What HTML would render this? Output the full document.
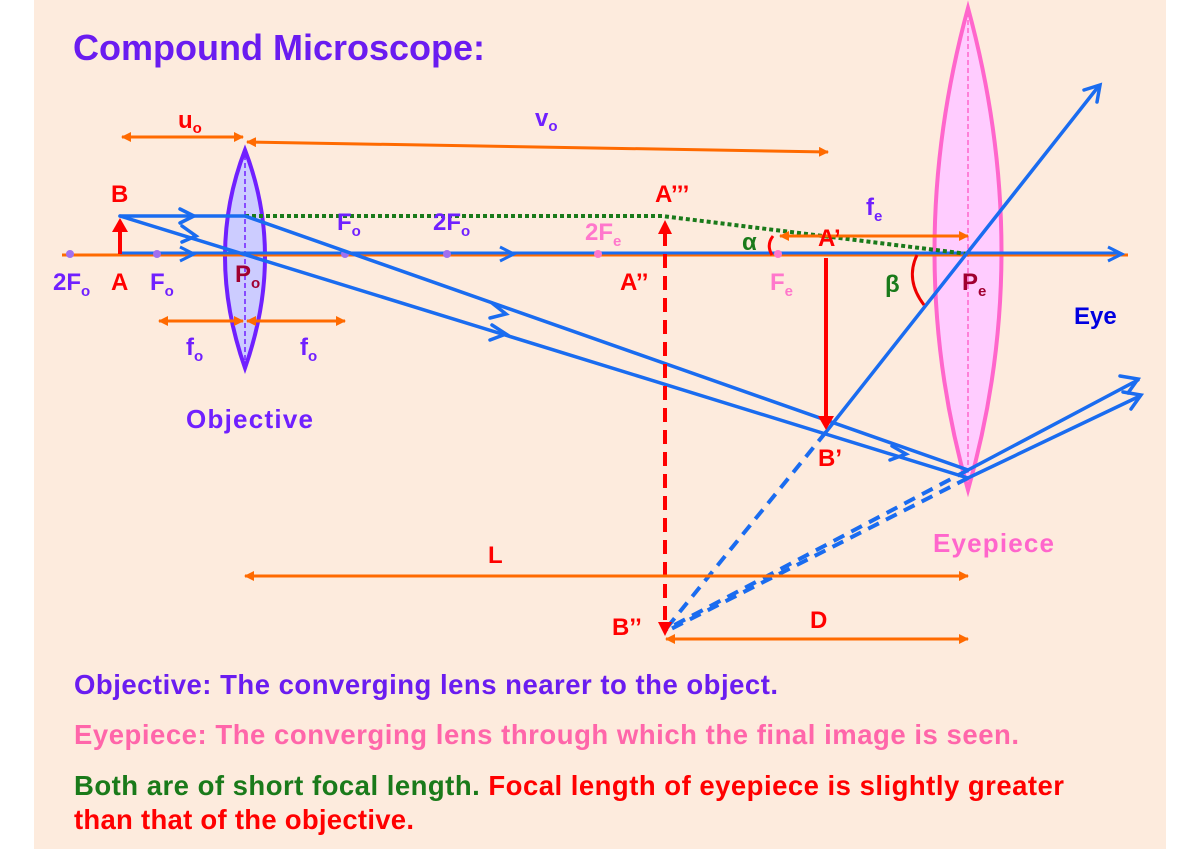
<!DOCTYPE html>
<html><head><meta charset="utf-8"><style>
body{margin:0;background:#fff;}
svg{display:block;font-family:"Liberation Sans",sans-serif;font-weight:bold;}
</style></head><body>
<svg width="1200" height="849" viewBox="0 0 1200 849">
<defs>
<marker id="ob" markerWidth="10" markerHeight="10" refX="9" refY="5" orient="auto" markerUnits="userSpaceOnUse"><path d="M0,0 L10,5 L0,10 z" fill="#ff6a00"/></marker>
<marker id="os" markerWidth="10" markerHeight="10" refX="1" refY="5" orient="auto" markerUnits="userSpaceOnUse"><path d="M10,0 L0,5 L10,10 z" fill="#ff6a00"/></marker>
</defs>
<rect x="34" y="0" width="1132" height="849" fill="#fdebdd"/>
<text x="73" y="60" font-size="36" fill="#6a1cf0">Compound Microscope:</text>
<path d="M245,150 Q285,254 245,368 Q205,254 245,150 z" fill="#ccccff" stroke="#7020ff" stroke-width="4"/>
<line x1="245" y1="155" x2="245" y2="365" stroke="#7020ff" stroke-width="1.5" stroke-dasharray="5,3"/>
<path d="M968,8 Q1035,254 968,490 Q901,254 968,8 z" fill="#ffccff" stroke="#ff66cc" stroke-width="4"/>
<line x1="968" y1="12" x2="968" y2="485" stroke="#ff66cc" stroke-width="1.5" stroke-dasharray="5,3"/>
<line x1="62" y1="255" x2="1128" y2="255" stroke="#ff6a00" stroke-width="3"/>
<line x1="120" y1="253" x2="1120" y2="253" stroke="#1a6cf0" stroke-width="3"/>
<path d="M1108,247 L1122,254 L1108,261" fill="none" stroke="#1a6cf0" stroke-width="3"/>
<path d="M500,247 L514,254 L500,261" fill="none" stroke="#1a6cf0" stroke-width="3"/>
<path d="M180,247 L194,254 L180,261" fill="none" stroke="#1a6cf0" stroke-width="3"/>
<g fill="#a070f0"><circle cx="70" cy="254" r="4"/><circle cx="157" cy="254" r="4"/><circle cx="345" cy="254" r="4"/><circle cx="447" cy="254" r="4"/></g>
<g fill="#ff77cc"><circle cx="598" cy="254" r="4"/><circle cx="778" cy="254" r="4"/></g>
<polyline points="245,216 662,216 968,254" fill="none" stroke="#1a7a1a" stroke-width="4" stroke-dasharray="4,3"/>
<g stroke="#1a6cf0" stroke-width="3.5" fill="none" stroke-linecap="round">
<line x1="120" y1="216" x2="245" y2="216"/>
<path d="M180,209 L194,216 L180,223"/>
<polyline points="245,216 968,470 1138,380"/>
<polyline points="120,216 968,478 1140,396"/>
<path d="M182,226 L196,236 L182,242"/>
<path d="M492,303 L506,314 L490,318"/>
<path d="M492,325 L506,334 L490,340"/>
<path d="M892,446 L906,454 L890,460"/>
<path d="M1120,376 L1138,379 L1128,393"/>
<path d="M1123,392 L1141,395 L1131,409"/>
<line x1="826" y1="432" x2="1098" y2="87"/>
<path d="M1084,90 L1100,85 L1097,102"/>
</g>
<g stroke="#1a6cf0" stroke-width="4" fill="none" stroke-dasharray="12,8">
<line x1="826" y1="432" x2="665" y2="630"/>
<line x1="968" y1="470" x2="665" y2="630"/>
<line x1="968" y1="478" x2="665" y2="632"/>
</g>
<line x1="120" y1="254" x2="120" y2="228" stroke="#f00" stroke-width="4"/>
<path d="M112,232 L120,218 L128,232 z" fill="#f00"/>
<line x1="665" y1="232" x2="665" y2="622" stroke="#f00" stroke-width="4" stroke-dasharray="14,8"/>
<path d="M658,234 L665,220 L672,234 z" fill="#f00"/>
<path d="M658,622 L665,636 L672,622 z" fill="#f00"/>
<line x1="826" y1="258" x2="826" y2="418" stroke="#f00" stroke-width="4"/>
<path d="M818,416 L826,430 L834,416 z" fill="#f00"/>
<path d="M773,236 Q766,245 772,255" fill="none" stroke="#f00" stroke-width="3"/>
<path d="M917,255 Q905,280 924,305" fill="none" stroke="#e00" stroke-width="3"/>
<g stroke="#ff6a00" stroke-width="3">
<line x1="122" y1="137" x2="243" y2="137" marker-start="url(#os)" marker-end="url(#ob)"/>
<line x1="247" y1="142" x2="828" y2="152" marker-start="url(#os)" marker-end="url(#ob)"/>
<line x1="159" y1="321" x2="243" y2="321" marker-start="url(#os)" marker-end="url(#ob)"/>
<line x1="247" y1="321" x2="345" y2="321" marker-start="url(#os)" marker-end="url(#ob)"/>
<line x1="780" y1="236" x2="968" y2="236" marker-start="url(#os)" marker-end="url(#ob)"/>
<line x1="245" y1="576" x2="968" y2="576" marker-start="url(#os)" marker-end="url(#ob)"/>
<line x1="666" y1="639" x2="968" y2="639" marker-start="url(#os)" marker-end="url(#ob)"/>
</g>
<g font-size="24">
<text x="178" y="128" fill="#f00">u<tspan font-size="15" dy="5">o</tspan></text>
<text x="535" y="126" fill="#7020ff">v<tspan font-size="15" dy="5">o</tspan></text>
<text x="111" y="202" fill="#f00">B</text>
<text x="53" y="290" fill="#7020ff">2F<tspan font-size="15" dy="6">o</tspan></text>
<text x="111" y="290" fill="#f00">A</text>
<text x="150" y="290" fill="#7020ff">F<tspan font-size="15" dy="6">o</tspan></text>
<text x="235" y="282" fill="#a00030">P<tspan font-size="15" dy="6">o</tspan></text>
<text x="337" y="230" fill="#7020ff">F<tspan font-size="15" dy="6">o</tspan></text>
<text x="433" y="230" fill="#7020ff">2F<tspan font-size="15" dy="6">o</tspan></text>
<text x="585" y="240" fill="#ff77cc">2F<tspan font-size="15" dy="6">e</tspan></text>
<text x="655" y="202" fill="#f00">A’’’</text>
<text x="620" y="290" fill="#f00">A’’</text>
<text x="742" y="250" fill="#1a7a1a">α</text>
<text x="818" y="246" fill="#f00">A’</text>
<text x="770" y="290" fill="#ff77cc">F<tspan font-size="15" dy="6">e</tspan></text>
<text x="866" y="215" fill="#7020ff">f<tspan font-size="15" dy="6">e</tspan></text>
<text x="885" y="292" fill="#1a7a1a">β</text>
<text x="962" y="290" fill="#a00030">P<tspan font-size="15" dy="6">e</tspan></text>
<text x="1074" y="324" fill="#0000e0">Eye</text>
<text x="186" y="355" fill="#7020ff">f<tspan font-size="15" dy="6">o</tspan></text>
<text x="300" y="355" fill="#7020ff">f<tspan font-size="15" dy="6">o</tspan></text>
<text x="186" y="428" fill="#7020ff" font-size="26" textLength="127">Objective</text>
<text x="818" y="466" fill="#f00">B’</text>
<text x="933" y="552" fill="#ff66cc" font-size="26" textLength="121">Eyepiece</text>
<text x="488" y="563" fill="#f00">L</text>
<text x="612" y="635" fill="#f00">B’’</text>
<text x="810" y="628" fill="#f00">D</text>
</g>
<g font-size="27.5">
<text x="74" y="694" fill="#6a1cf0" textLength="704">Objective:  The converging lens nearer to the object.</text>
<text x="74" y="744" fill="#ff66aa" textLength="945">Eyepiece:  The converging lens through which the final image is seen.</text>
<text x="74" y="795" fill="#1a7a1a" textLength="990">Both are of short focal length.  <tspan fill="#f00">Focal length of eyepiece is slightly greater</tspan></text>
<text x="74" y="829" fill="#f00" textLength="340">than that of the objective.</text>
</g>
</svg>
</body></html>
